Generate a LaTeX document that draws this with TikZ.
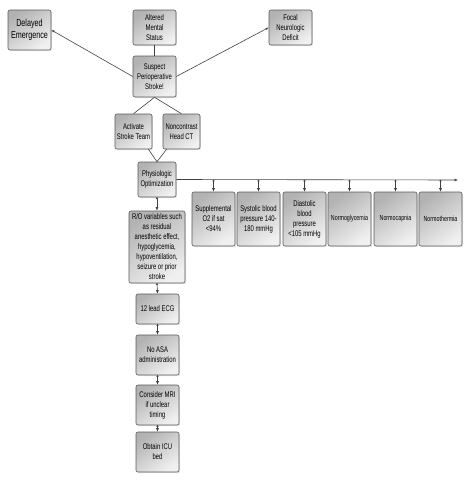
\documentclass[tikz,border=0pt]{standalone}
\usepackage{fontspec}
\setmainfont{Liberation Sans}[FakeStretch=0.72]
\usetikzlibrary{arrows.meta,shadows}

\tikzset{
  boite/.style={draw=black!65, line width=0.6pt, rounded corners=2pt,
    top color=black!30, bottom color=black!6, shading angle=35,
    drop shadow={opacity=0.2, shadow xshift=1.2pt, shadow yshift=-1.2pt},
    align=center, inner sep=0.5pt, font=\fontsize{8.2}{10}\selectfont},
  lien/.style={draw=black!75, line width=0.6pt},
  fleche/.style={lien, {Circle[length=2pt]}-{Latex[length=3.5pt,width=3pt]}},
}

\begin{document}
\begin{tikzpicture}[x=1pt,y=-1pt]
  \useasboundingbox (0,0) rectangle (474,485);
  % Haut
  \node[boite, minimum width=43pt, minimum height=40pt,
        font=\fontsize{10}{11.5}\selectfont] (delayed) at (29.5,30) {Delayed\\Emergence};
  \node[boite, minimum width=43pt, minimum height=35pt] (altered) at (154.5,27.5) {Altered\\Mental\\Status};
  \node[boite, minimum width=43pt, minimum height=35pt] (focal) at (290.5,27.5) {Focal\\Neurologic\\Deficit};
  \node[boite, minimum width=43pt, minimum height=41pt] (suspect) at (154.5,76.5) {Suspect\\Perioperative\\Stroke!};
  \draw[lien] (altered) -- (suspect);
  \draw[lien, -{Latex[length=3pt,width=2.5pt]}] (suspect.west) -- (delayed.east);
  \draw[lien, -{Latex[length=3pt,width=2.5pt]}] (suspect.east) -- (focal.west);
  % Equipe et scanner
  \node[boite, minimum width=37pt, minimum height=35pt] (activate) at (133.5,131.5) {Activate\\Stroke Team};
  \node[boite, minimum width=37pt, minimum height=35pt] (noncontrast) at (181.5,131.5) {Noncontrast\\Head CT};
  \node[boite, minimum width=38pt, minimum height=35pt] (physio) at (157,179.5) {Physiologic\\Optimization};
  \draw[lien] (suspect.south) -- (activate.north);
  \draw[lien] (suspect.south) -- (noncontrast.north);
  \draw[lien] (activate.-50) -- (physio.north);
  \draw[lien] (noncontrast.-130) -- (physio.north);
  % Optimisation
  \coordinate (fin) at (458,180);
  \draw[lien, -{Latex[length=3.5pt,width=3pt]}] (physio.east) -- (fin);
  \foreach \nom/\x/\txt in {o2/213.5/{Supplemental\\O2 if sat\\<94\%},
                            sbp/258.5/{Systolic blood\\pressure 140-\\180 mmHg},
                            dbp/304.5/{Diastolic\\blood\\pressure\\<105 mmHg},
                            glyc/349.5/{\fontsize{7.4}{9}\selectfont Normoglycemia},
                            capn/395.5/{\fontsize{7.4}{9}\selectfont Normocapnia},
                            therm/440.5/{\fontsize{7.4}{9}\selectfont Normothermia}}{
    \node[boite, minimum width=43pt, minimum height=54pt] (\nom) at (\x,219) {\txt};
    \coordinate (\nom-haut) at (\x,180);
    \draw[fleche] (\nom-haut) -- (\nom.north);
  }
  % Colonne
  \node[boite, minimum width=56pt, minimum height=72pt] (ro) at (157,247) {R/O variables such\\as residual\\anesthetic effect,\\hypoglycemia,\\hypoventilation,\\seizure or prior\\stroke};
  \node[boite, minimum width=43pt, minimum height=30pt] (ecg) at (157.5,309) {12 lead ECG};
  \node[boite, minimum width=43pt, minimum height=40pt] (noasa) at (157.5,355) {No ASA\\administration};
  \node[boite, minimum width=43pt, minimum height=40pt] (mri) at (157.5,405) {Consider MRI\\if unclear\\timing};
  \node[boite, minimum width=43pt, minimum height=40pt] (icu) at (157.5,452) {Obtain ICU\\bed};
  \draw[fleche] (physio.south) -- (ro.north);
  \draw[fleche] (ro.south) -- (ecg.north);
  \draw[fleche] (ecg.south) -- (noasa.north);
  \draw[fleche] (noasa.south) -- (mri.north);
  \draw[fleche] (mri.south) -- (icu.north);
\end{tikzpicture}
\end{document}
